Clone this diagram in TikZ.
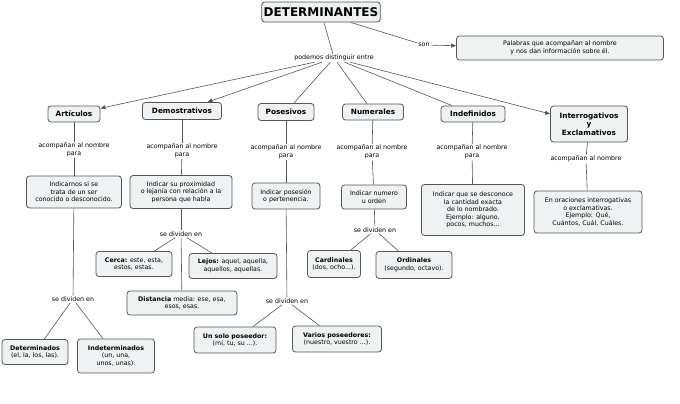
\documentclass[tikz,border=0pt]{standalone}
\usepackage{fontspec}
\setmainfont{DejaVu Sans}
\usetikzlibrary{arrows.meta}
\definecolor{boxfill}{HTML}{EEF2F3}
\definecolor{boxline}{HTML}{555555}
\tikzset{
  bx/.style={draw=boxline,fill=boxfill,rounded corners=3pt,line width=0.8pt,align=center,inner sep=2pt,font=\fontsize{6.3}{7.6}\selectfont},
  cat/.style={bx,font=\bfseries\fontsize{7.3}{8.6}\selectfont},
  lbl/.style={align=center,inner sep=1pt,font=\fontsize{6.3}{7.6}\selectfont,fill=white},
  ln/.style={draw=boxline,line width=0.6pt},
  ar/.style={ln,-{Triangle[length=5pt,width=4pt]}},
}
\begin{document}
\begin{tikzpicture}[x=1pt,y=-1pt]
\useasboundingbox (0,0) rectangle (680,404);
\node[cat,font=\bfseries\fontsize{12}{14}\selectfont,minimum width=118pt,minimum height=20pt] (det) at (321,12) {DETERMINANTES};
\node[lbl] (pod) at (334,58) {podemos distinguir entre};
\node[lbl] (son) at (424,45) {son};
\node[bx,minimum width=207pt,minimum height=24pt] (pal) at (560,48) {Palabras que acompañan al nombre\\y nos dan información sobre él.};
\node[cat,minimum width=52pt,minimum height=16pt] (art) at (74,114) {Artículos};
\node[cat,minimum width=79pt,minimum height=17pt] (dem) at (182,111) {Demostrativos};
\node[cat,minimum width=56pt,minimum height=17pt] (pos) at (286,112) {Posesivos};
\node[cat,minimum width=61pt,minimum height=16pt] (num) at (373,112) {Numerales};
\node[cat,minimum width=64pt,minimum height=16pt] (ind) at (473,114) {Indefinidos};
\node[cat,minimum width=77pt,minimum height=36pt] (int) at (589,124) {Interrogativos\\y\\Exclamativos};
\node[lbl] (l1) at (74,150) {acompañan al nombre\\para};
\node[lbl] (l2) at (182,151) {acompañan al nombre\\para};
\node[lbl] (l3) at (286,152) {acompañan al nombre\\para};
\node[lbl] (l4) at (372,152) {acompañan al nombre\\para};
\node[lbl] (l5) at (472,152) {acompañan al nombre\\para};
\node[lbl] (l6) at (586,159) {acompañan al nombre};
\node[bx,minimum width=95pt,minimum height=32pt] (b1) at (74,192) {Indicarnos si se\\trata de un ser\\conocido o desconocido.};
\node[bx,minimum width=102pt,minimum height=33pt] (b2) at (181,192) {Indicar su proximidad\\o lejanía con relación a la\\persona que habla};
\node[bx,minimum width=68pt,minimum height=26pt] (b3) at (286,196) {Indicar posesión\\o pertenencia.};
\node[bx,minimum width=65pt,minimum height=24pt] (b4) at (374,197) {Indicar numero\\u orden};
\node[bx,minimum width=103pt,minimum height=51pt] (b5) at (473,210) {Indicar que se desconoce\\la cantidad exacta\\de lo nombrado.\\Ejemplo: alguno,\\pocos, muchos...};
\node[bx,minimum width=108pt,minimum height=42pt] (b6) at (588,212) {En oraciones interrogativas\\o exclamativas.\\Ejemplo: Qué,\\Cuántos, Cuál, Cuáles.};
\node[lbl] (s2) at (181,234) {se dividen en};
\node[bx,minimum width=76pt,minimum height=25pt] (cer) at (134,264) {\textbf{Cerca:} este, esta,\\estos, estas.};
\node[bx,minimum width=88pt,minimum height=25pt] (lej) at (233,266) {\textbf{Lejos:} aquel, aquella,\\aquellos, aquellas.};
\node[bx,minimum width=110pt,minimum height=24pt] (dis) at (182,303) {\textbf{Distancia} media: ese, esa,\\esos, esas.};
\node[lbl] (s4) at (375,230) {se dividen en};
\node[bx,minimum width=53pt,minimum height=27pt] (car) at (334,264) {\textbf{Cardinales}\\(dos, ocho...).};
\node[bx,minimum width=76pt,minimum height=27pt] (ord) at (414,265) {\textbf{Ordinales}\\(segundo, octavo).};
\node[lbl] (s1) at (73,299) {se dividen en};
\node[bx,minimum width=66pt,minimum height=25pt] (dt) at (35,352) {\textbf{Determinados}\\(el, la, los, las).};
\node[bx,minimum width=77pt,minimum height=34pt] (it) at (116,356) {\textbf{Indeterminados}\\(un, una,\\unos, unas).};
\node[lbl] (s3) at (287,301) {se dividen en};
\node[bx,minimum width=82pt,minimum height=26pt] (uno) at (235,340) {\textbf{Un solo poseedor:}\\(mi, tu, su ...).};
\node[bx,minimum width=89pt,minimum height=26pt] (var) at (337,339) {\textbf{Varios poseedores:}\\(nuestro, vuestro ...).};
% connectors
\draw[ln] (det) -- (pod);
\draw[ln] (det.south east) ++(-30,0) -- (son);
\draw[ar] (son) -- (pal);
\draw[ar] (pod) -- (art);
\draw[ar] (pod) -- (dem);
\draw[ln] (pod) -- (pos);
\draw[ln] (pod) -- (num);
\draw[ln] (pod) -- (ind);
\draw[ar] (pod) -- (int);
\foreach \a/\b/\c in {art/l1/b1,dem/l2/b2,pos/l3/b3,num/l4/b4,ind/l5/b5,int/l6/b6}{
  \draw[ln] (\a) -- (\b); \draw[ln] (\b) -- (\c);}
\draw[ln] (b1) -- (s1); \draw[ln] (s1) -- (dt); \draw[ln] (s1) -- (it);
\draw[ln] (b2) -- (s2); \draw[ln] (s2) -- (cer); \draw[ln] (s2) -- (lej); \draw[ln] (s2) -- (dis);
\draw[ln] (b3) -- (s3); \draw[ln] (s3) -- (uno); \draw[ln] (s3) -- (var);
\draw[ln] (b4) -- (s4); \draw[ln] (s4) -- (car); \draw[ln] (s4) -- (ord);
\end{tikzpicture}
\end{document}
